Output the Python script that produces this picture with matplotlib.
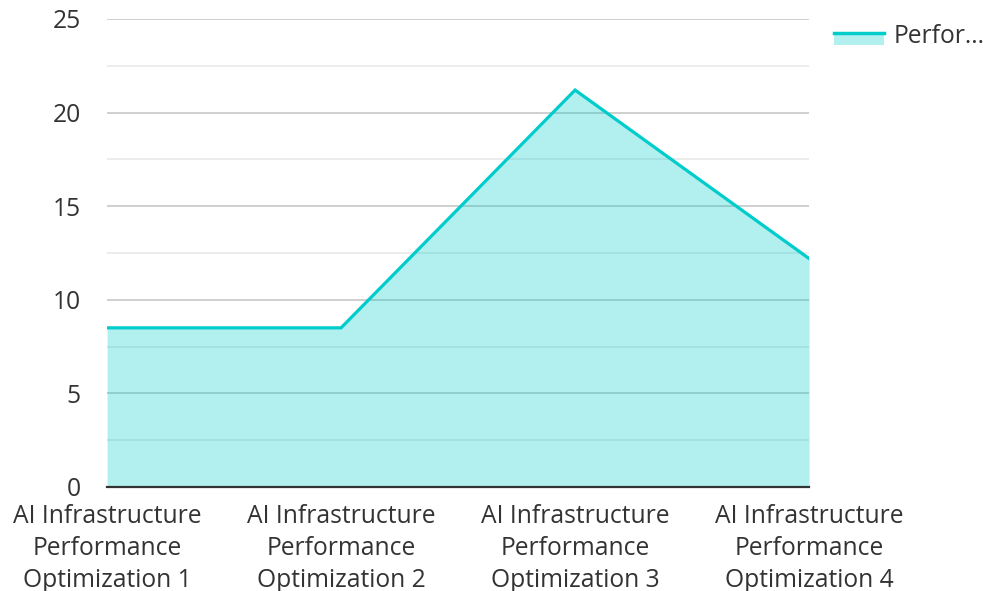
import numpy as np
import matplotlib
matplotlib.use("Agg")
import matplotlib.pyplot as plt
from matplotlib.legend_handler import HandlerBase
from matplotlib.patches import Rectangle
from matplotlib.lines import Line2D

# Data
categories = ["AI Infrastructure\nPerformance\nOptimization 1",
              "AI Infrastructure\nPerformance\nOptimization 2",
              "AI Infrastructure\nPerformance\nOptimization 3",
              "AI Infrastructure\nPerformance\nOptimization 4"]
performance = [8.5, 8.5, 21.2, 12.2]
series_label = "Perfor..."

LINE = "#00cccc"
TEXT = "#333333"
FS = 17.7

plt.rcParams["font.family"] = ["Open Sans", "DejaVu Sans"]


class AreaHandler(HandlerBase):  # legend key: filled box with line on top
    def create_artists(self, legend, orig, xd, yd, w, h, fontsize, trans):
        top = yd + 0.58 * h
        rect = Rectangle((xd, top - 0.7 * h), w, 0.7 * h, facecolor=LINE, alpha=0.3,
                         edgecolor="none", transform=trans)
        ln = Line2D([xd, xd + w], [top, top], color=LINE, lw=2.5, transform=trans)
        return [rect, ln]


fig = plt.figure(figsize=(9.83, 5.91), dpi=100)
ax = fig.add_axes([0.1089, 0.176, 0.7142, 0.792])

x = np.arange(len(categories))
ax.fill_between(x, 0, performance, color=LINE, alpha=0.3, lw=0, zorder=2)
ax.plot(x, performance, color=LINE, lw=2.3, zorder=3, solid_joinstyle="miter")

ax.set_xlim(0, len(categories) - 1)
ax.set_ylim(0, 25)
ax.set_yticks(np.arange(0, 26, 5))
ax.set_yticks(np.arange(2.5, 25, 5), minor=True)
ax.grid(axis="y", which="major", color="#cccccc", lw=1.3, zorder=1)
ax.grid(axis="y", which="minor", color="#ebebeb", lw=1.3, zorder=1)
ax.set_xticks(x)
ax.set_xticklabels(categories, linespacing=1.39)
ax.tick_params(axis="both", length=0, labelsize=FS, colors=TEXT)
ax.tick_params(axis="x", pad=12)
ax.tick_params(axis="y", pad=19)
ax.tick_params(which="minor", length=0)
for s in ["top", "right", "left"]:
    ax.spines[s].set_visible(False)
ax.spines["bottom"].set_color(TEXT)
ax.spines["bottom"].set_linewidth(1.6)
ax.spines["bottom"].set_zorder(4)

ax.legend(handles=[Line2D([], [])], labels=[series_label], handler_map={Line2D: AreaHandler()},
          loc="upper left", bbox_to_anchor=(0.8484, 0.960), bbox_transform=fig.transFigure,
          frameon=False, fontsize=FS, labelcolor=TEXT, handlelength=2.05, handletextpad=0.38,
          borderpad=0, borderaxespad=0)

fig.savefig("out.png", dpi=100)
